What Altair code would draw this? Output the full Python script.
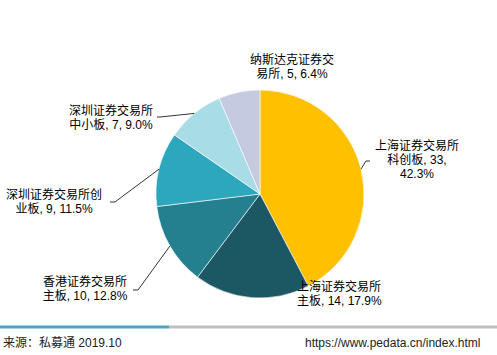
import math
import altair as alt
import pandas as pd

# ---- data ----
names = ["上海证券交易所科创板", "上海证券交易所主板", "香港证券交易所主板",
         "深圳证券交易所创业板", "深圳证券交易所中小板", "纳斯达克证券交易所"]
counts = [33, 14, 10, 9, 7, 5]
label_lines = [
    ["上海证券交易所", "科创板, 33,", "{p}"],
    ["上海证券交易所", "主板, 14, {p}"],
    ["香港证券交易所", "主板, 10, {p}"],
    ["深圳证券交易所创", "业板, 9, {p}"],
    ["深圳证券交易所", "中小板, 7, {p}"],
    ["纳斯达克证券交", "易所, 5, {p}"],
]
colors = ["#FFC000", "#1B5864", "#24808F", "#2CA7BC", "#A8DDE7", "#C4CADF"]

# ---- layout ----
CX, CY, R = 260, 194, 104
FONT = "Liberation Sans, Noto Sans CJK SC, sans-serif"
label_pos = [  # x, y(top), align
    (417, 141, "center"),
    (297, 282, "left"),
    (85, 277, "center"),
    (54, 190, "center"),
    (111, 106, "center"),
    (292, 55, "center"),
]
elbows = {  # label index -> leader points after the pie edge
    0: [(366, 161), (370, 161)],
    2: [(138, 290), (133, 290)],
    3: [(115, 202), (110, 202)],
    4: [(160, 117), (157, 117)],
}

total = sum(counts)
pie_df = pd.DataFrame({"name": names, "count": counts, "idx": range(len(names))})

arcs = alt.Chart(pie_df).mark_arc(outerRadius=R, stroke="white", strokeWidth=0.6).encode(
    theta=alt.Theta("count:Q", stack=True),
    color=alt.Color("name:N", scale=alt.Scale(domain=names, range=colors), legend=None),
    order=alt.Order("idx:Q"),
    x=alt.value(CX),
    y=alt.value(CY),
)

# labels
rows = []
cum = 0
segs = []
for i, (n, c) in enumerate(zip(names, counts)):
    p = f"{c / total * 100:.1f}%"
    text = "\n".join(s.format(p=p) for s in label_lines[i])
    lx, ly, al = label_pos[i]
    rows.append({"text": text, "x": lx, "y": ly, "align": al})
    mid = (cum + c / 2) / total * 2 * math.pi
    cum += c
    if i in elbows:
        pts = [(CX + R * math.sin(mid), CY - R * math.cos(mid))] + elbows[i]
        for (x1, y1), (x2, y2) in zip(pts[:-1], pts[1:]):
            segs.append({"x": x1, "y": y1, "x2": x2, "y2": y2})
lab_df = pd.DataFrame(rows)
seg_df = pd.DataFrame(segs)

def text_layer(align):
    return alt.Chart(lab_df[lab_df["align"] == align]).mark_text(
        align=align, baseline="top", lineBreak="\n", lineHeight=14,
        font=FONT, fontSize=12, color="#000000",
    ).encode(
        x=alt.X("x:Q", scale=None, axis=None),
        y=alt.Y("y:Q", scale=None, axis=None),
        text="text:N",
    )

leaders = alt.Chart(seg_df).mark_rule(color="#000000", strokeWidth=0.8).encode(
    x=alt.X("x:Q", scale=None, axis=None),
    y=alt.Y("y:Q", scale=None, axis=None),
    x2="x2:Q",
    y2="y2:Q",
)

# footer
bar_df = pd.DataFrame({"x": [0, 169], "x2": [169, 497], "y": [327, 327],
                       "c": ["#4BA3C8", "#BEBEBE"]})
footer_bar = alt.Chart(bar_df).mark_rule(strokeWidth=3).encode(
    x=alt.X("x:Q", scale=None, axis=None),
    x2="x2:Q",
    y=alt.Y("y:Q", scale=None, axis=None),
    color=alt.Color("c:N", scale=None),
)
foot_df = pd.DataFrame({"t": ["来源：私募通 2019.10"], "x": [3], "y": [343]})
foot_df2 = pd.DataFrame({"t": ["https://www.pedata.cn/index.html"], "x": [305], "y": [343]})
foot1 = alt.Chart(foot_df).mark_text(align="left", baseline="middle", font=FONT,
                                     fontSize=12, color="#222222").encode(
    x=alt.X("x:Q", scale=None, axis=None), y=alt.Y("y:Q", scale=None, axis=None), text="t:N")
foot2 = alt.Chart(foot_df2).mark_text(align="left", baseline="middle", font=FONT,
                                      fontSize=12, color="#222222").encode(
    x=alt.X("x:Q", scale=None, axis=None), y=alt.Y("y:Q", scale=None, axis=None), text="t:N")

chart = alt.layer(
    arcs, leaders, text_layer("center"), text_layer("left"), footer_bar, foot1, foot2
).properties(
    width=497, height=355, padding=0, autosize="none", background="white"
).configure_view(stroke=None)

chart.save("out.html", embed_options={"renderer": "svg", "actions": False})
